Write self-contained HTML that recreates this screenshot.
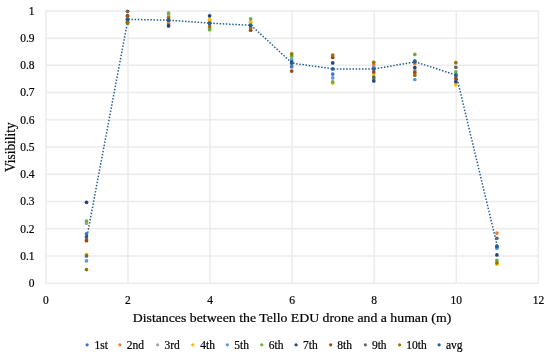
<!DOCTYPE html><html><head><meta charset="utf-8"><style>html,body{margin:0;padding:0;background:#fff;}svg{display:block;}text{font-family:"Liberation Serif",serif;fill:#000;stroke:#000;stroke-width:0.2px;}</style></head><body>
<svg width="550" height="357" viewBox="0 0 550 357">
<rect width="550" height="357" fill="#fff"/>
<path d="M45.40 283.20H538.88 M45.40 255.97H538.88 M45.40 228.74H538.88 M45.40 201.51H538.88 M45.40 174.28H538.88 M45.40 147.05H538.88 M45.40 119.82H538.88 M45.40 92.59H538.88 M45.40 65.36H538.88 M45.40 38.13H538.88 M45.40 10.90H538.88 M45.90 10.40V283.70 M127.98 10.40V283.70 M210.06 10.40V283.70 M292.14 10.40V283.70 M374.22 10.40V283.70 M456.30 10.40V283.70 M538.38 10.40V283.70" stroke="#ececec" stroke-width="1.5" fill="none"/>
<text x="34.5" y="287.10" font-size="11.5" text-anchor="end">0</text>
<text x="34.5" y="259.87" font-size="11.5" text-anchor="end">0.1</text>
<text x="34.5" y="232.64" font-size="11.5" text-anchor="end">0.2</text>
<text x="34.5" y="205.41" font-size="11.5" text-anchor="end">0.3</text>
<text x="34.5" y="178.18" font-size="11.5" text-anchor="end">0.4</text>
<text x="34.5" y="150.95" font-size="11.5" text-anchor="end">0.5</text>
<text x="34.5" y="123.72" font-size="11.5" text-anchor="end">0.6</text>
<text x="34.5" y="96.49" font-size="11.5" text-anchor="end">0.7</text>
<text x="34.5" y="69.26" font-size="11.5" text-anchor="end">0.8</text>
<text x="34.5" y="42.03" font-size="11.5" text-anchor="end">0.9</text>
<text x="34.5" y="14.80" font-size="11.5" text-anchor="end">1</text>
<text x="45.90" y="303.5" font-size="11.5" text-anchor="middle">0</text>
<text x="127.98" y="303.5" font-size="11.5" text-anchor="middle">2</text>
<text x="210.06" y="303.5" font-size="11.5" text-anchor="middle">4</text>
<text x="292.14" y="303.5" font-size="11.5" text-anchor="middle">6</text>
<text x="374.22" y="303.5" font-size="11.5" text-anchor="middle">8</text>
<text x="456.30" y="303.5" font-size="11.5" text-anchor="middle">10</text>
<text x="538.38" y="303.5" font-size="11.5" text-anchor="middle">12</text>
<text x="292" y="322.4" font-size="13.4" text-anchor="middle" textLength="318.5" lengthAdjust="spacingAndGlyphs">Distances between the Tello EDU drone and a human (m)</text>
<text transform="translate(14.7 147.2) rotate(-90)" x="0" y="0" font-size="13.9" text-anchor="middle" textLength="49.5" lengthAdjust="spacingAndGlyphs">Visibility</text>
<path d="M86.94 236.91 L127.98 19.34 L169.02 20.16 L210.06 23.15 L251.10 25.33 L292.14 63.18 L333.18 68.90 L374.22 68.90 L415.26 61.82 L456.30 75.16 L497.34 246.44" stroke="#255E91" stroke-width="1.5" stroke-dasharray="1.5 1.6525" stroke-dashoffset="2.105" fill="none"/>
<circle cx="86.49" cy="233.91" r="1.85" fill="#4472C4"/>
<circle cx="127.53" cy="18.52" r="1.85" fill="#4472C4"/>
<circle cx="168.57" cy="23.97" r="1.85" fill="#4472C4"/>
<circle cx="209.61" cy="23.15" r="1.85" fill="#4472C4"/>
<circle cx="250.65" cy="25.33" r="1.85" fill="#4472C4"/>
<circle cx="291.69" cy="66.72" r="1.85" fill="#4472C4"/>
<circle cx="332.73" cy="74.07" r="1.85" fill="#4472C4"/>
<circle cx="414.81" cy="60.73" r="1.85" fill="#4472C4"/>
<circle cx="455.85" cy="74.89" r="1.85" fill="#4472C4"/>
<circle cx="496.89" cy="246.44" r="1.85" fill="#4472C4"/>
<circle cx="86.49" cy="239.63" r="1.85" fill="#ED7D31"/>
<circle cx="127.53" cy="16.35" r="1.85" fill="#ED7D31"/>
<circle cx="168.57" cy="21.79" r="1.85" fill="#ED7D31"/>
<circle cx="209.61" cy="20.43" r="1.85" fill="#ED7D31"/>
<circle cx="250.65" cy="22.34" r="1.85" fill="#ED7D31"/>
<circle cx="373.77" cy="64.82" r="1.85" fill="#ED7D31"/>
<circle cx="414.81" cy="63.73" r="1.85" fill="#ED7D31"/>
<circle cx="496.89" cy="233.10" r="1.85" fill="#ED7D31"/>
<circle cx="86.49" cy="223.29" r="1.85" fill="#A5A5A5"/>
<circle cx="127.53" cy="20.16" r="1.85" fill="#A5A5A5"/>
<circle cx="168.57" cy="14.71" r="1.85" fill="#A5A5A5"/>
<circle cx="209.61" cy="28.60" r="1.85" fill="#A5A5A5"/>
<circle cx="414.81" cy="70.26" r="1.85" fill="#A5A5A5"/>
<circle cx="86.49" cy="254.34" r="1.85" fill="#FFC000"/>
<circle cx="127.53" cy="21.52" r="1.85" fill="#FFC000"/>
<circle cx="168.57" cy="17.16" r="1.85" fill="#FFC000"/>
<circle cx="209.61" cy="19.34" r="1.85" fill="#FFC000"/>
<circle cx="250.65" cy="21.52" r="1.85" fill="#FFC000"/>
<circle cx="332.73" cy="83.06" r="1.85" fill="#FFC000"/>
<circle cx="373.77" cy="74.07" r="1.85" fill="#FFC000"/>
<circle cx="455.85" cy="84.69" r="1.85" fill="#FFC000"/>
<circle cx="496.89" cy="264.14" r="1.85" fill="#FFC000"/>
<circle cx="86.49" cy="260.87" r="1.85" fill="#5B9BD5"/>
<circle cx="127.53" cy="19.07" r="1.85" fill="#5B9BD5"/>
<circle cx="168.57" cy="19.34" r="1.85" fill="#5B9BD5"/>
<circle cx="291.69" cy="59.64" r="1.85" fill="#5B9BD5"/>
<circle cx="332.73" cy="77.89" r="1.85" fill="#5B9BD5"/>
<circle cx="373.77" cy="67.27" r="1.85" fill="#5B9BD5"/>
<circle cx="414.81" cy="79.52" r="1.85" fill="#5B9BD5"/>
<circle cx="496.89" cy="248.35" r="1.85" fill="#5B9BD5"/>
<circle cx="86.49" cy="221.12" r="1.85" fill="#70AD47"/>
<circle cx="127.53" cy="23.43" r="1.85" fill="#70AD47"/>
<circle cx="168.57" cy="13.08" r="1.85" fill="#70AD47"/>
<circle cx="209.61" cy="29.69" r="1.85" fill="#70AD47"/>
<circle cx="250.65" cy="18.80" r="1.85" fill="#70AD47"/>
<circle cx="291.69" cy="56.37" r="1.85" fill="#70AD47"/>
<circle cx="332.73" cy="81.97" r="1.85" fill="#70AD47"/>
<circle cx="373.77" cy="78.43" r="1.85" fill="#70AD47"/>
<circle cx="414.81" cy="54.47" r="1.85" fill="#70AD47"/>
<circle cx="455.85" cy="71.90" r="1.85" fill="#70AD47"/>
<circle cx="496.89" cy="260.33" r="1.85" fill="#70AD47"/>
<circle cx="86.49" cy="202.33" r="1.85" fill="#264478"/>
<circle cx="127.53" cy="22.34" r="1.85" fill="#264478"/>
<circle cx="168.57" cy="25.88" r="1.85" fill="#264478"/>
<circle cx="209.61" cy="15.80" r="1.85" fill="#264478"/>
<circle cx="291.69" cy="62.09" r="1.85" fill="#264478"/>
<circle cx="332.73" cy="62.91" r="1.85" fill="#264478"/>
<circle cx="373.77" cy="80.88" r="1.85" fill="#264478"/>
<circle cx="414.81" cy="67.54" r="1.85" fill="#264478"/>
<circle cx="455.85" cy="81.70" r="1.85" fill="#264478"/>
<circle cx="496.89" cy="254.88" r="1.85" fill="#264478"/>
<circle cx="86.49" cy="240.72" r="1.85" fill="#9E480E"/>
<circle cx="127.53" cy="15.53" r="1.85" fill="#9E480E"/>
<circle cx="250.65" cy="30.23" r="1.85" fill="#9E480E"/>
<circle cx="291.69" cy="71.08" r="1.85" fill="#9E480E"/>
<circle cx="332.73" cy="57.46" r="1.85" fill="#9E480E"/>
<circle cx="373.77" cy="71.90" r="1.85" fill="#9E480E"/>
<circle cx="414.81" cy="72.44" r="1.85" fill="#9E480E"/>
<circle cx="455.85" cy="78.43" r="1.85" fill="#9E480E"/>
<circle cx="86.49" cy="255.97" r="1.85" fill="#636363"/>
<circle cx="127.53" cy="11.31" r="1.85" fill="#636363"/>
<circle cx="373.77" cy="77.07" r="1.85" fill="#636363"/>
<circle cx="455.85" cy="67.27" r="1.85" fill="#636363"/>
<circle cx="496.89" cy="238.27" r="1.85" fill="#636363"/>
<circle cx="86.49" cy="269.58" r="1.85" fill="#997300"/>
<circle cx="127.53" cy="22.61" r="1.85" fill="#997300"/>
<circle cx="168.57" cy="17.71" r="1.85" fill="#997300"/>
<circle cx="209.61" cy="26.42" r="1.85" fill="#997300"/>
<circle cx="250.65" cy="27.78" r="1.85" fill="#997300"/>
<circle cx="291.69" cy="53.92" r="1.85" fill="#997300"/>
<circle cx="332.73" cy="55.01" r="1.85" fill="#997300"/>
<circle cx="373.77" cy="62.36" r="1.85" fill="#997300"/>
<circle cx="414.81" cy="75.16" r="1.85" fill="#997300"/>
<circle cx="455.85" cy="62.64" r="1.85" fill="#997300"/>
<circle cx="496.89" cy="262.78" r="1.85" fill="#997300"/>
<circle cx="86.49" cy="236.91" r="1.85" fill="#255E91"/>
<circle cx="127.53" cy="19.34" r="1.85" fill="#255E91"/>
<circle cx="168.57" cy="20.16" r="1.85" fill="#255E91"/>
<circle cx="209.61" cy="23.15" r="1.85" fill="#255E91"/>
<circle cx="250.65" cy="25.33" r="1.85" fill="#255E91"/>
<circle cx="291.69" cy="63.18" r="1.85" fill="#255E91"/>
<circle cx="332.73" cy="68.90" r="1.85" fill="#255E91"/>
<circle cx="373.77" cy="68.90" r="1.85" fill="#255E91"/>
<circle cx="414.81" cy="61.82" r="1.85" fill="#255E91"/>
<circle cx="455.85" cy="75.16" r="1.85" fill="#255E91"/>
<circle cx="496.89" cy="246.44" r="1.85" fill="#255E91"/>
<circle cx="87.10" cy="344.8" r="1.6" fill="#4472C4"/>
<text x="94.50" y="348.8" font-size="11.5">1st</text>
<circle cx="119.90" cy="344.8" r="1.6" fill="#ED7D31"/>
<text x="126.80" y="348.8" font-size="11.5">2nd</text>
<circle cx="157.60" cy="344.8" r="1.6" fill="#A5A5A5"/>
<text x="164.50" y="348.8" font-size="11.5">3rd</text>
<circle cx="192.80" cy="344.8" r="1.6" fill="#FFC000"/>
<text x="200.20" y="348.8" font-size="11.5">4th</text>
<circle cx="227.30" cy="344.8" r="1.6" fill="#5B9BD5"/>
<text x="234.30" y="348.8" font-size="11.5">5th</text>
<circle cx="261.80" cy="344.8" r="1.6" fill="#70AD47"/>
<text x="268.70" y="348.8" font-size="11.5">6th</text>
<circle cx="296.10" cy="344.8" r="1.6" fill="#264478"/>
<text x="303.10" y="348.8" font-size="11.5">7th</text>
<circle cx="330.70" cy="344.8" r="1.6" fill="#9E480E"/>
<text x="337.30" y="348.8" font-size="11.5">8th</text>
<circle cx="365.40" cy="344.8" r="1.6" fill="#636363"/>
<text x="371.90" y="348.8" font-size="11.5">9th</text>
<circle cx="399.60" cy="344.8" r="1.6" fill="#997300"/>
<text x="406.30" y="348.8" font-size="11.5">10th</text>
<circle cx="439.10" cy="344.8" r="1.6" fill="#255E91"/>
<text x="445.90" y="348.8" font-size="11.5">avg</text>
</svg></body></html>
